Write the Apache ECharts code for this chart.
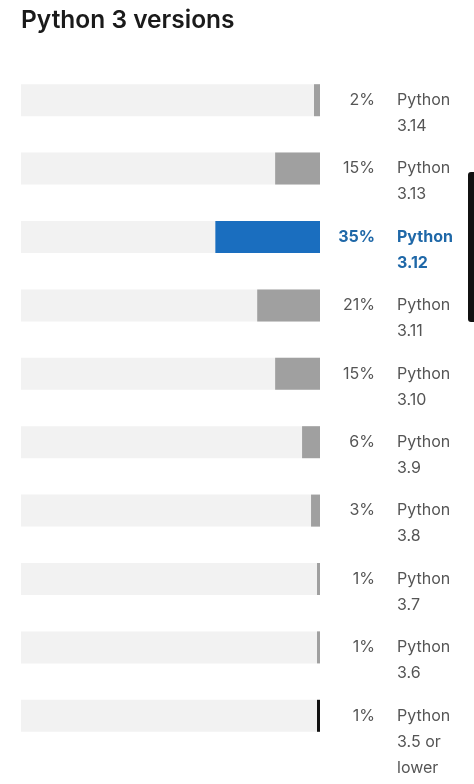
<!DOCTYPE html>
<html>
<head>
<meta charset="utf-8">
<script src="https://cdn.jsdelivr.net/npm/echarts@6/dist/echarts.min.js"></script>
<style>
  html, body { margin: 0; padding: 0; background: #fff; }
  #chart { width: 474px; height: 784px; }
</style>
</head>
<body>
<div id="chart"></div>
<script>
// 数据
const versions = ['Python\n3.14', 'Python\n3.13', 'Python\n3.12', 'Python\n3.11', 'Python\n3.10',
                  'Python\n3.9', 'Python\n3.8', 'Python\n3.7', 'Python\n3.6', 'Python\n3.5 or\nlower'];
const shares = [2, 15, 35, 21, 15, 6, 3, 1, 1, 1];
const highlightIndex = 2;   // 3.12 高亮
const lastIndex = 9;        // 3.5 or lower 黑色

const FONT = 'Inter, "Noto Sans", sans-serif';
const GRAY_TEXT = '#555555';
const BLUE_TEXT = '#1f68a8';

function barColor(i) {
    if (i === highlightIndex) return '#1a6ebf';
    if (i === lastIndex) return '#111111';
    return '#a0a0a0';
}

// 两个类目轴都放右侧：百分比 + 版本名
function axisBase() {
    return {
        type: 'category',
        data: versions,
        inverse: true,
        position: 'right',
        axisLine: { show: false },
        axisTick: { show: false },
        splitLine: { show: false }
    };
}

const chart = echarts.init(document.getElementById('chart'));

chart.setOption({
    backgroundColor: '#ffffff',
    animation: false,
    title: {
        text: 'Python 3 versions',
        left: 16,
        top: 3,
        textStyle: { fontFamily: FONT, fontSize: 24.5, fontWeight: 600, color: '#1a1a1a' }
    },
    grid: { left: 21, right: 154, top: 66, bottom: 34 },
    xAxis: {
        type: 'value',
        min: 0,
        max: 100,
        inverse: true,
        show: false
    },
    yAxis: [
        Object.assign(axisBase(), {
            axisLabel: {
                margin: 55,
                align: 'right',
                verticalAlign: 'middle',
                formatter: (value, index) =>
                    index === highlightIndex ? `{h|${shares[index]}%}` : `{n|${shares[index]}%}`,
                rich: {
                    n: { fontFamily: FONT, fontSize: 16, color: GRAY_TEXT },
                    h: { fontFamily: FONT, fontSize: 16, fontWeight: 'bold', color: BLUE_TEXT }
                }
            }
        }),
        Object.assign(axisBase(), {
            axisLabel: {
                margin: 77,
                align: 'left',
                verticalAlign: 'top',
                padding: [-13, 0, 0, 0],
                formatter: (value, index) => {
                    const st = index === highlightIndex ? 'h' : 'n';
                    return value.split('\n').map(line => `{${st}|${line}}`).join('\n');
                },
                rich: {
                    n: { fontFamily: FONT, fontSize: 16, color: GRAY_TEXT, lineHeight: 26 },
                    h: { fontFamily: FONT, fontSize: 16, fontWeight: 'bold', color: BLUE_TEXT, lineHeight: 26 }
                }
            }
        })
    ],
    series: [{
        type: 'bar',
        yAxisIndex: 0,
        barWidth: 32,
        showBackground: true,
        backgroundStyle: { color: '#f2f2f2' },
        data: shares.map((v, i) => ({ value: v, itemStyle: { color: barColor(i) } }))
    }],
    graphic: [{
        type: 'rect',
        right: 0,
        top: 172,
        shape: { width: 6, height: 150, r: [3, 0, 0, 3] },
        style: { fill: '#111111' }
    }]
});
</script>
</body>
</html>
